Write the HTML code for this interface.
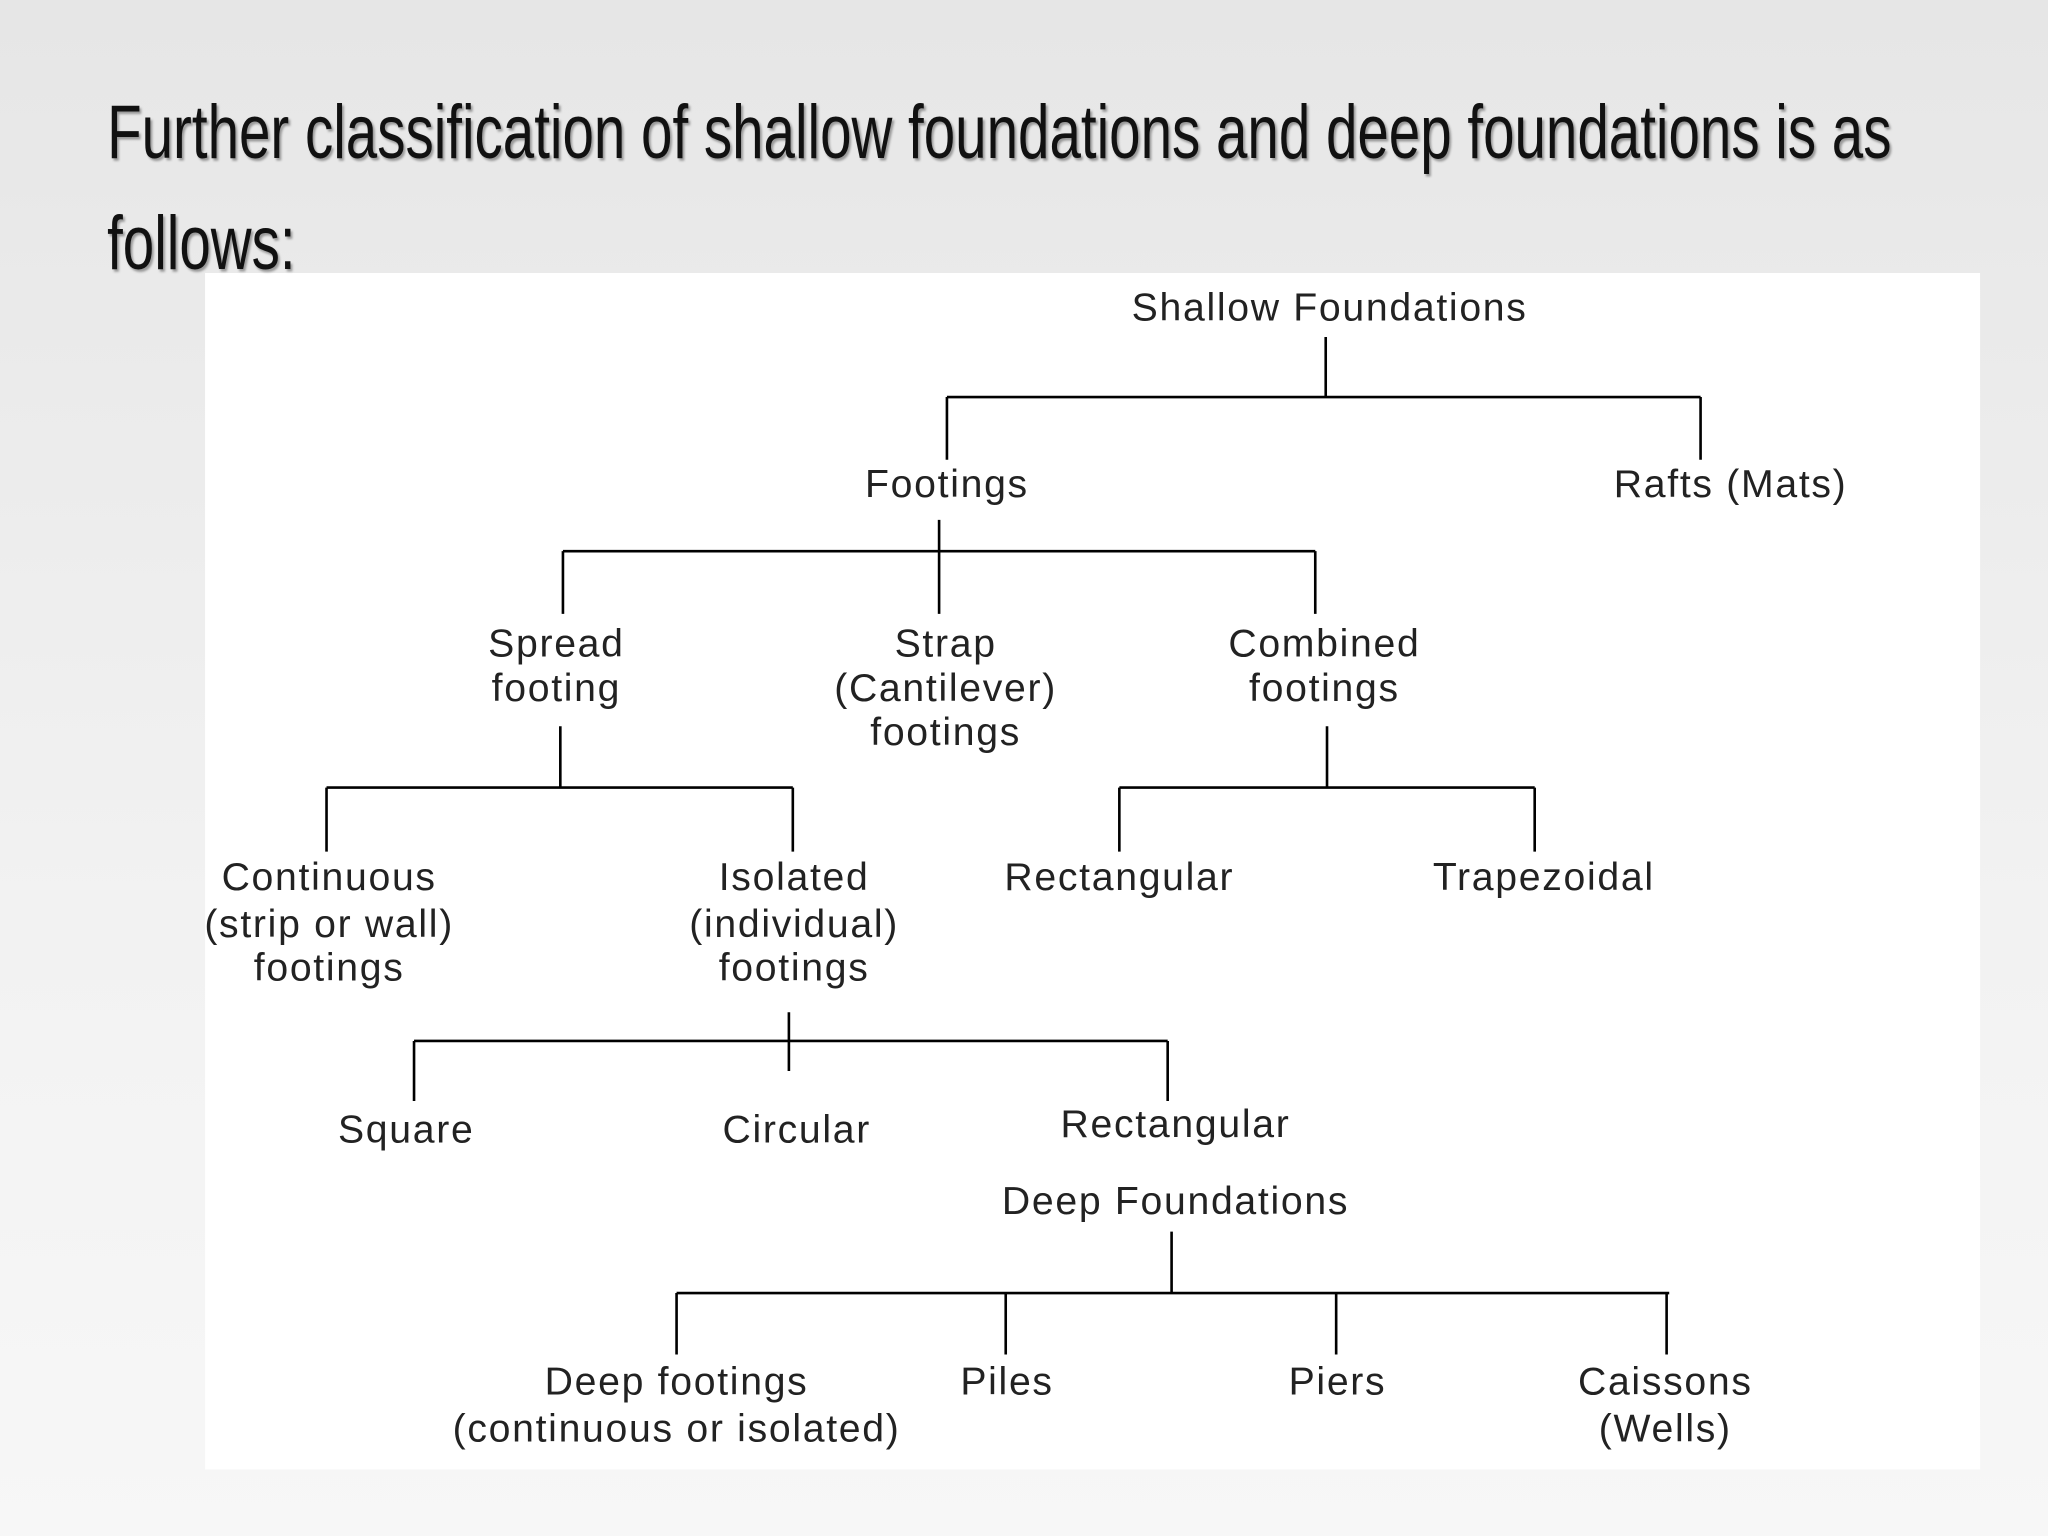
<!DOCTYPE html>
<html><head><meta charset="utf-8"><style>
html,body{margin:0;padding:0;width:2048px;height:1536px;overflow:hidden;background:#ececec;}
#wrap{position:absolute;left:0;top:0;width:1568px;height:1176px;transform:scale(1.306122);transform-origin:0 0;background:linear-gradient(#e6e6e6,#f2f2f2 60%,#f7f7f7);}
.t{position:absolute;left:82px;font-family:"Liberation Sans",sans-serif;font-size:58px;color:#111;transform-origin:0 0;white-space:nowrap;text-shadow:2px 2px 2px #999;}
#panel{position:absolute;left:157px;top:209px;width:1359px;height:916px;background:#fff;}
svg{position:absolute;left:0;top:0;}
</style></head><body><div id="wrap">
<div id="panel"></div>
<div class="t" style="top:68px;transform:scaleX(0.746);">Further classification of shallow foundations and deep foundations is as</div>
<div class="t" style="top:153px;transform:scaleX(0.746);">follows:</div>
<svg width="1568" height="1176" viewBox="0 0 1568 1176">
<g stroke="#000" stroke-width="2" fill="none">
<path d="M1015 258V304M725 304H1302M725 304V352M1302 304V352"/>
<path d="M719 398V470M431 422H1007M431 422V470M1007 422V470"/>
<path d="M429 556V603M250 603H607M250 603V652M607 603V652"/>
<path d="M1016 556V603M857 603H1175M857 603V652M1175 603V652"/>
<path d="M604 775V820M317 797H894M317 797V843M894 797V843"/>
<path d="M897 943V990M518 990H1278M518 990V1037M770 990V1037M1023 990V1037M1276 990V1037"/>
</g>
<g font-family="Liberation Sans, sans-serif" font-size="30" letter-spacing="1.3" fill="#222" text-anchor="middle" dominant-baseline="central">
<text x="1018" y="236">Shallow Foundations</text>
<text x="725" y="371">Footings</text>
<text x="1325" y="371">Rafts (Mats)</text>
<text x="426" y="493">Spread</text><text x="426" y="527">footing</text>
<text x="724" y="493">Strap</text><text x="724" y="527">(Cantilever)</text><text x="724" y="561">footings</text>
<text x="1014" y="493">Combined</text><text x="1014" y="527">footings</text>
<text x="252" y="672">Continuous</text><text x="252" y="708">(strip or wall)</text><text x="252" y="741">footings</text>
<text x="608" y="672">Isolated</text><text x="608" y="708">(individual)</text><text x="608" y="741">footings</text>
<text x="857" y="672">Rectangular</text>
<text x="1182" y="672">Trapezoidal</text>
<text x="311" y="865">Square</text>
<text x="610" y="865">Circular</text>
<text x="900" y="861">Rectangular</text>
<text x="900" y="920">Deep Foundations</text>
<text x="518" y="1058">Deep footings</text><text x="518" y="1094">(continuous or isolated)</text>
<text x="771" y="1058">Piles</text>
<text x="1024" y="1058">Piers</text>
<text x="1275" y="1058">Caissons</text><text x="1275" y="1094">(Wells)</text>
</g>
</svg>
</div></body></html>
